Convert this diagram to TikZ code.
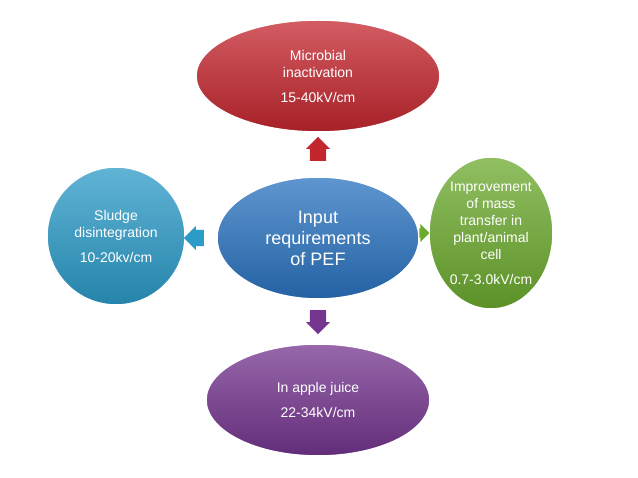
\documentclass[tikz,border=0pt]{standalone}
\usepackage{fontspec}
\setmainfont{Liberation Sans}
\usetikzlibrary{shapes.geometric,shapes.arrows}
\begin{document}
\begin{tikzpicture}[x=1pt,y=-1pt,
 blob/.style={ellipse,draw=white,line width=1.5pt,text=white,align=center,font=\fontsize{14}{17}\selectfont,inner sep=0pt},
 arr/.style={single arrow,minimum height=24pt,minimum width=24pt,single arrow head extend=2pt,inner sep=4pt,draw=none}]
\useasboundingbox (0,0) rectangle (638,478);
\definecolor{cred}{HTML}{C4262E}\definecolor{cgreen}{HTML}{6CAA2E}
\definecolor{ccyan}{HTML}{2B9BC8}\definecolor{cpurp}{HTML}{74358E}\definecolor{cblue}{HTML}{2A73C0}
\node[blob,minimum width=244pt,minimum height=112pt,top color=cred!75!white,bottom color=cred!85!black] (top) at (318,76) {Microbial\\inactivation\\[8pt]15-40kV/cm};
\node[blob,minimum width=124pt,minimum height=152pt,top color=cgreen!75!white,bottom color=cgreen!85!black] (right) at (491,233) {Improvement\\of mass\\transfer in\\plant/animal\\cell\\[8pt]0.7-3.0kV/cm};
\node[blob,minimum width=138pt,minimum height=138pt,top color=ccyan!75!white,bottom color=ccyan!85!black] (left) at (116,236) {Sludge\\disintegration\\[8pt]10-20kv/cm};
\node[blob,minimum width=224pt,minimum height=112pt,top color=cpurp!75!white,bottom color=cpurp!85!black] (bottom) at (318,400) {In apple juice\\[8pt]22-34kV/cm};
\node[blob,minimum width=202pt,minimum height=122pt,top color=cblue!75!white,bottom color=cblue!85!black,font=\fontsize{18}{21}\selectfont] (c) at (318,238) {Input\\requirements\\of PEF};
\node[arr,fill=cred,shape border rotate=90] (a1) at (318,153) {};
\node[arr,fill=cpurp,shape border rotate=270] (a2) at (318,318) {};
\node[arr,fill=ccyan,shape border rotate=180,minimum height=20pt] (a3) at (198,238) {};
\node[arr,fill=cgreen,shape border rotate=0,minimum height=10pt,minimum width=18pt,inner sep=2pt] (a4) at (422,233) {};
\end{tikzpicture}
\end{document}
